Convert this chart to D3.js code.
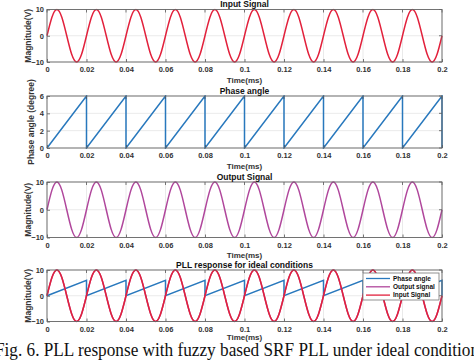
<!DOCTYPE html>
<html><head><meta charset="utf-8">
<script src="https://cdn.jsdelivr.net/npm/d3@7"></script>
<style>body{margin:0;background:#fff;overflow:hidden}svg{display:block}</style>
</head><body>
<script>
// ---- data ----
const timeSamples = [0,0.0025,0.005,0.0075,0.01,0.0125,0.015,0.0175,
0.02,0.0225,0.025,0.0275,0.03,0.0325,0.035,0.0375,
0.04,0.0425,0.045,0.0475,0.05,0.0525,0.055,0.0575,
0.06,0.0625,0.065,0.0675,0.07,0.0725,0.075,0.0775,
0.08,0.0825,0.085,0.0875,0.09,0.0925,0.095,0.0975,
0.1,0.1025,0.105,0.1075,0.11,0.1125,0.115,0.1175,
0.12,0.1225,0.125,0.1275,0.13,0.1325,0.135,0.1375,
0.14,0.1425,0.145,0.1475,0.15,0.1525,0.155,0.1575,
0.16,0.1625,0.165,0.1675,0.17,0.1725,0.175,0.1775,
0.18,0.1825,0.185,0.1875,0.19,0.1925,0.195,0.1975,0.2];
const inputSignal = [0,7.07,10,7.07,0,-7.07,-10,-7.07,
0,7.07,10,7.07,0,-7.07,-10,-7.07,
0,7.07,10,7.07,0,-7.07,-10,-7.07,
0,7.07,10,7.07,0,-7.07,-10,-7.07,
0,7.07,10,7.07,0,-7.07,-10,-7.07,
0,7.07,10,7.07,0,-7.07,-10,-7.07,
0,7.07,10,7.07,0,-7.07,-10,-7.07,
0,7.07,10,7.07,0,-7.07,-10,-7.07,
0,7.07,10,7.07,0,-7.07,-10,-7.07,
0,7.07,10,7.07,0,-7.07,-10,-7.07,0];
const outputSignal = [0,7.07,10,7.07,0,-7.07,-10,-7.07,
0,7.07,10,7.07,0,-7.07,-10,-7.07,
0,7.07,10,7.07,0,-7.07,-10,-7.07,
0,7.07,10,7.07,0,-7.07,-10,-7.07,
0,7.07,10,7.07,0,-7.07,-10,-7.07,
0,7.07,10,7.07,0,-7.07,-10,-7.07,
0,7.07,10,7.07,0,-7.07,-10,-7.07,
0,7.07,10,7.07,0,-7.07,-10,-7.07,
0,7.07,10,7.07,0,-7.07,-10,-7.07,
0,7.07,10,7.07,0,-7.07,-10,-7.07,0];
const phaseTime = [0,0.02,0.02,0.04,0.04,0.06,0.06,0.08,0.08,0.1,0.1,0.12,0.12,0.14,0.14,0.16,0.16,0.18,0.18,0.2,0.2];
const phaseAngle = [0,6,0,6,0,6,0,6,0,6,0,6,0,6,0,6,0,6,0,6,0];
const xTicks = [0,0.02,0.04,0.06,0.08,0.1,0.12,0.14,0.16,0.18,0.2];
const xTickLabels = ["0","0.02","0.04","0.06","0.08","0.1","0.12","0.14","0.16","0.18","0.2"];
const magTicks = [-10,0,10];
const phaseTicks = [0,2,4,6];
const panelTitles = ["Input Signal","Phase angle","Output Signal","PLL response for ideal conditions"];
const legendLabels = ["Phase angle","Output signal","Input Signal"];
const caption = "Fig. 6. PLL response with fuzzy based SRF PLL  under ideal condition";

// ---- styles ----
const RED = "#e2213c", BLUE = "#2878bd", MAG = "#b0479c";
const FONT = "Liberation Sans, Arial, sans-serif";
const W = 474, H = 361;
const svg = d3.select("body").append("svg").attr("width", W).attr("height", H);
const x = d3.scaleLinear().domain([0, 0.2]).range([47, 442]);

const sineSeries = (vals, color) => ({xs: timeSamples, ys: vals, color, curve: d3.curveNatural});
const phaseSeries = {xs: phaseTime, ys: phaseAngle, color: BLUE, curve: d3.curveLinear};

const panels = [
  {top: 9.5, bottom: 62, dom: [-10, 10], ticks: magTicks, ylabel: "Magnitude(V)", title: panelTitles[0],
   series: [sineSeries(inputSignal, RED)], xlab: 83},
  {top: 96, bottom: 148, dom: [0, 6], ticks: phaseTicks, ylabel: "Phase angle (degree)", title: panelTitles[1],
   series: [phaseSeries], xlab: 169},
  {top: 182, bottom: 237.5, dom: [-10, 10], ticks: magTicks, ylabel: "Magnitude(V)", title: panelTitles[2],
   series: [sineSeries(outputSignal, MAG)], xlab: 258},
  {top: 270, bottom: 321.5, dom: [-10, 10], ticks: magTicks, ylabel: "Magnitude(V)", title: panelTitles[3],
   series: [phaseSeries, sineSeries(outputSignal, MAG), sineSeries(inputSignal, RED)], xlab: 340, legend: true}
];

panels.forEach(p => {
  const y = d3.scaleLinear().domain(p.dom).range([p.bottom, p.top]);
  const g = svg.append("g");
  const [x0, x1] = x.range();
  // grid
  g.selectAll(".gx").data(xTicks).join("line")
    .attr("x1", d => x(d)).attr("x2", d => x(d)).attr("y1", p.top).attr("y2", p.bottom)
    .attr("stroke", "#e4e4e4").attr("stroke-width", 0.8);
  g.selectAll(".gy").data(p.ticks).join("line")
    .attr("x1", x0).attr("x2", x1).attr("y1", d => y(d)).attr("y2", d => y(d))
    .attr("stroke", "#e4e4e4").attr("stroke-width", 0.8);
  // series
  const clipId = "clip" + Math.round(p.top);
  svg.append("clipPath").attr("id", clipId).append("rect")
    .attr("x", x0 - 1).attr("y", p.top - 1).attr("width", x1 - x0 + 2).attr("height", p.bottom - p.top + 2);
  p.series.forEach(s => {
    const pts = s.xs.map((t, i) => [t, s.ys[i]]);
    g.append("path").datum(pts).attr("clip-path", `url(#${clipId})`)
      .attr("d", d3.line().x(d => x(d[0])).y(d => y(d[1])).curve(s.curve))
      .attr("fill", "none").attr("stroke", s.color).attr("stroke-width", 1.5);
  });
  // axes
  const ax = g.append("g").attr("transform", `translate(0,${p.bottom})`)
    .call(d3.axisBottom(x).tickValues(xTicks).tickFormat((d, i) => xTickLabels[i]).tickSize(-3).tickPadding(5));
  const ay = g.append("g").attr("transform", `translate(${x0},0)`)
    .call(d3.axisLeft(y).tickValues(p.ticks).tickFormat(d3.format("d")).tickSize(-3).tickPadding(3));
  [ax, ay].forEach(a => {
    a.select(".domain").remove();
    a.selectAll("line").attr("stroke", "#555").attr("stroke-width", 0.8);
    a.selectAll("text").attr("font-family", FONT).attr("font-size", 7.5).attr("font-weight", "bold").attr("fill", "#333");
  });
  // top ticks and right ticks
  g.selectAll(".tt").data(xTicks).join("line")
    .attr("x1", d => x(d)).attr("x2", d => x(d)).attr("y1", p.top).attr("y2", p.top + 3)
    .attr("stroke", "#555").attr("stroke-width", 0.8);
  g.selectAll(".rt").data(p.ticks).join("line")
    .attr("x1", x1).attr("x2", x1 - 3).attr("y1", d => y(d)).attr("y2", d => y(d))
    .attr("stroke", "#555").attr("stroke-width", 0.8);
  // box
  g.append("rect").attr("x", x0).attr("y", p.top).attr("width", x1 - x0).attr("height", p.bottom - p.top)
    .attr("fill", "none").attr("stroke", "#666").attr("stroke-width", 0.9);
  // title
  g.append("text").attr("x", (x0 + x1) / 2).attr("y", p.top - 2.5).attr("text-anchor", "middle")
    .attr("font-family", FONT).attr("font-size", 8.5).attr("font-weight", "bold").attr("fill", "#111").text(p.title);
  // y label
  g.append("text").attr("transform", `translate(${p.ylabel.startsWith("Phase") ? 34 : 31},${(p.top + p.bottom) / 2}) rotate(-90)`)
    .attr("text-anchor", "middle").attr("font-family", FONT).attr("font-size", 8.5).attr("font-weight", "bold")
    .attr("fill", "#333").text(p.ylabel);
  // x label
  g.append("text").attr("x", (x0 + x1) / 2).attr("y", p.xlab).attr("text-anchor", "middle")
    .attr("font-family", FONT).attr("font-size", 8).attr("font-weight", "bold").attr("fill", "#333").text("Time(ms)");
  // legend
  if (p.legend) {
    const lg = g.append("g");
    lg.append("rect").attr("x", 363).attr("y", 273).attr("width", 76).attr("height", 27)
      .attr("fill", "#fff").attr("stroke", "#777").attr("stroke-width", 0.8);
    const colors = [BLUE, MAG, RED];
    legendLabels.forEach((lab, i) => {
      const yy = 278.5 + i * 8.3;
      lg.append("line").attr("x1", 366).attr("x2", 390).attr("y1", yy).attr("y2", yy)
        .attr("stroke", colors[i]).attr("stroke-width", 1.3);
      lg.append("text").attr("x", 393).attr("y", yy + 2.3).attr("font-family", FONT).attr("font-size", 6.5)
        .attr("font-weight", "bold").attr("fill", "#111").text(lab);
    });
  }
});

// caption (drawn last, over the bottom axis label, as in the reference)
svg.append("text").attr("x", -5).attr("y", 356).attr("font-family", "Liberation Serif, Times New Roman, serif")
  .attr("font-size", 18).attr("fill", "#111").attr("textLength", 484).attr("lengthAdjust", "spacingAndGlyphs")
  .text(caption);
</script>
</body></html>
